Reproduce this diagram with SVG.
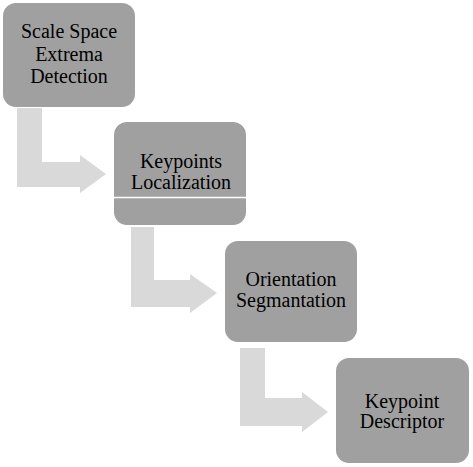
<svg xmlns="http://www.w3.org/2000/svg" width="473" height="467" viewBox="0 0 473 467">
<style>
.box{fill:#a0a0a0;}
.arr{fill:#d9d9d9;}
.t{font-family:"Liberation Serif","Times New Roman",serif;font-size:20px;fill:#000;text-anchor:middle;}
</style>
<rect width="473" height="467" fill="#ffffff"/>
<g id="connectors">
<path class="arr" d="M17,108 H42 V162 H80 V155 L106,174 L80,193 V187 H17 Z"/>
<path class="arr" d="M131,227 H154 V280 H190 V274 L217,293 L190,313 V307 H131 Z"/>
<path class="arr" d="M240,348 H265 V398 H302 V392 L328,412 L302,432 V426 H240 Z"/>
</g>
<g id="node1">
<rect class="box" x="3" y="3" width="132" height="104" rx="13"/>
<text class="t" x="69" y="38">Scale Space</text>
<text class="t" x="69" y="61">Extrema</text>
<text class="t" x="69" y="83">Detection</text>
</g>
<g id="node2">
<rect class="box" x="114" y="122" width="132" height="103" rx="13"/>
<line x1="114" y1="197.5" x2="246" y2="197.5" stroke="#ffffff" stroke-width="1.5"/>
<text class="t" x="181" y="168">Keypoints</text>
<text class="t" x="181" y="189">Localization</text>
</g>
<g id="node3">
<rect class="box" x="225" y="241" width="132" height="101" rx="13"/>
<text class="t" x="291" y="286">Orientation</text>
<text class="t" x="291" y="307">Segmantation</text>
</g>
<g id="node4">
<rect class="box" x="336" y="358" width="133" height="105" rx="13"/>
<text class="t" x="402" y="408">Keypoint</text>
<text class="t" x="402" y="428">Descriptor</text>
</g>
</svg>
